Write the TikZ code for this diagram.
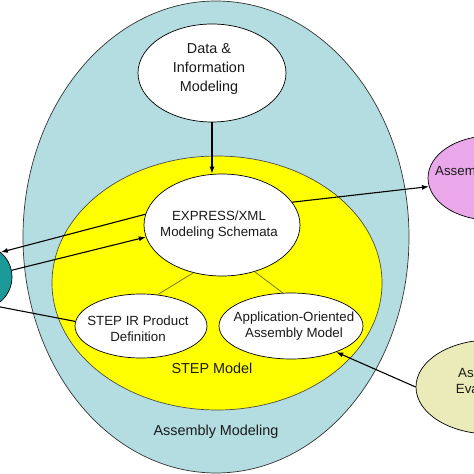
\documentclass[tikz,border=0pt]{standalone}
\usepackage{fontspec}
\setmainfont{Liberation Sans}
\usetikzlibrary{shapes.geometric,arrows.meta}
\definecolor{outerblue}{HTML}{B3DDE0}
\definecolor{stepyellow}{HTML}{FFFF00}
\definecolor{pinkfill}{HTML}{EAA8EA}
\definecolor{beigefill}{HTML}{EBEBBA}
\definecolor{tealfill}{HTML}{1C9A9A}
\definecolor{olive}{HTML}{7A7A10}
\definecolor{ink}{HTML}{1A1A1A}
\begin{document}
\begin{tikzpicture}[x=1pt,y=-1pt,
  ell/.style={ellipse, draw=black, line width=0.7pt, inner sep=0pt},
  inner/.style={font=\fontsize{13.3}{16}\selectfont, text=ink, align=center, inner sep=0pt},
  outer/.style={font=\fontsize{14.4}{19}\selectfont, text=ink, align=center, inner sep=0pt},
  arr/.style={draw=black, line width=1.1pt, -{Latex[length=7pt,width=5pt]}},
  plain/.style={draw=black, line width=1.1pt},
  branch/.style={draw=olive, line width=0.8pt}]
\useasboundingbox (0,0) rectangle (474,474);
\clip (0,0) rectangle (474,474);
% containers
\node[ell, draw=black!80, fill=outerblue, minimum width=386pt, minimum height=472pt] (outerell) at (216,237) {};
\node[ell, draw=black!70, fill=stepyellow, minimum width=330pt, minimum height=254pt] (stepell) at (217,283) {};
% inner ellipses
\node[ell, fill=white, minimum width=148pt, minimum height=98pt] (data) at (212,73) {};
\node[outer] (datatxt) at (209,69) {Data \&\\Information\\Modeling};
\node[ell, fill=white, minimum width=156pt, minimum height=102pt] (express) at (222,225) {};
\node[inner] (exprtxt) at (219,225) {EXPRESS/XML\\Modeling Schemata};
\node[ell, fill=white, minimum width=132pt, minimum height=64pt] (stepir) at (141,326) {};
\node[inner] (stepirtxt) at (138,329) {STEP IR Product\\Definition};
\node[ell, fill=white, minimum width=144pt, minimum height=66pt] (app) at (291,326) {};
\node[inner] (apptxt) at (294,326) {Application-Oriented\\Assembly Model};
% labels
\node[outer] (steplbl) at (212,368) {STEP Model};
\node[outer] (asmlbl) at (216,432) {Assembly Modeling};
% outside ellipses
\node[ell, fill=tealfill, minimum width=64pt, minimum height=64pt] (teal) at (-20,277) {};
\node[ell, fill=pinkfill, minimum width=124pt, minimum height=84pt] (pink) at (490,178) {};
\node[inner, anchor=west] (pinktxt) at (435,172) {Assembly};
\node[ell, fill=beigefill, minimum width=148pt, minimum height=94pt] (beige) at (490,387) {};
\node[inner] (beigetxt) at (487,381) {Assembly\\Evaluation};
\coordinate (lfree) at (-10,305);
% connectors
\draw[arr] (data.south) -- (data.south |- express.north);
\draw[arr] (express.18) -- (pink.188);
\draw[arr] (express.172.6) -- (teal.50);
\draw[arr] (teal.12) -- (express.189.5);
\draw[plain] (lfree) -- (stepir.176.5);
\draw[arr] (beige.west) -- (app.330);
\draw[branch] (express.239.4) -- (stepir.62.7);
\draw[branch] (express.305) -- (app.104);
\end{tikzpicture}
\end{document}
